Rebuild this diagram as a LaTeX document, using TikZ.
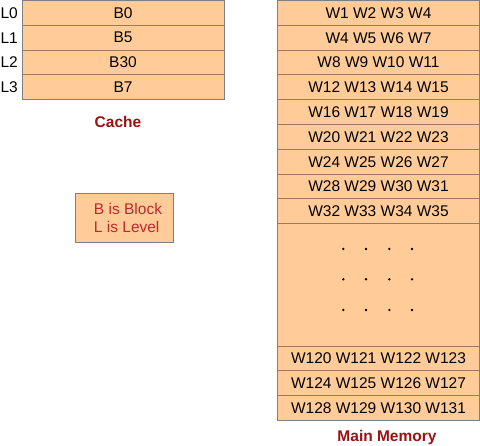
\documentclass[tikz,border=0pt]{standalone}
\usepackage{fontspec}
\setmainfont{Liberation Sans}
\usetikzlibrary{positioning}

\definecolor{cellfill}{HTML}{FFCC99}
\definecolor{cellline}{HTML}{9A7A5A}
\definecolor{framegray}{HTML}{7F7F7F}
\definecolor{titlered}{HTML}{991111}
\definecolor{notered}{HTML}{C0282A}

\tikzset{
	cell/.style={fill=cellfill, draw=cellline, line width=0.8pt, minimum width=202pt, minimum height=24.8pt, inner sep=0pt, outer sep=0pt, font=\fontsize{15.5}{18}\selectfont},
	level/.style={inner sep=0pt, font=\fontsize{15.5}{18}\selectfont},
	title/.style={anchor=base, text=titlered, font=\bfseries\fontsize{15.5}{18}\selectfont},
	legend/.style={fill=cellfill, draw=framegray, line width=0.8pt, minimum width=98pt, minimum height=49pt, align=left, text=notered, font=\fontsize{15.5}{18}\selectfont}
}

\begin{document}
\begin{tikzpicture}[x=1pt, y=-1pt]
	
		\useasboundingbox (0,0) rectangle (480,446);
		
		% Cache rows
		\node[cell] (b0) at (123,12.9) {B0};
		\node[cell, below=0pt of b0] (b5) {B5};
		\node[cell, below=0pt of b5] (b30) {B30};
		\node[cell, below=0pt of b30] (b7) {B7};
		\draw [framegray, line width=0.8pt] (b0.north west) rectangle (b7.south east);
		
		% Levels
		\node[level, left=4pt of b0] (l0) {L0};
		\node[level, left=4pt of b5] (l1) {L1};
		\node[level, left=4pt of b30] (l2) {L2};
		\node[level, left=4pt of b7] (l3) {L3};
		
		\node[title] (cachetitle) at (118,127.5) {Cache};
		
		% Legend
		\node[legend] (legend) at (124,217.5) {\hspace*{8pt}B is Block\\\hspace*{8pt}L is Level};
		
		% Main memory rows
		\node[cell] (w1) at (378.5,12.9) {W1 W2 W3 W4};
		\node[cell, below=0pt of w1] (w4) {W4 W5 W6 W7};
		\node[cell, below=0pt of w4] (w8) {W8 W9 W10 W11};
		\node[cell, below=0pt of w8] (w12) {W12 W13 W14 W15};
		\node[cell, below=0pt of w12] (w16) {W16 W17 W18 W19};
		\node[cell, below=0pt of w16] (w20) {W20 W21 W22 W23};
		\node[cell, below=0pt of w20] (w24) {W24 W25 W26 W27};
		\node[cell, below=0pt of w24] (w28) {W28 W29 W30 W31};
		\node[cell, below=0pt of w28] (w32) {W32 W33 W34 W35};
		\node[cell, below=0pt of w32, minimum height=122.3pt] (gap) {};
		\node[cell, below=0pt of gap] (w120) {W120 W121 W122 W123};
		\node[cell, below=0pt of w120] (w124) {W124 W125 W126 W127};
		\node[cell, below=0pt of w124] (w128) {W128 W129 W130 W131};
		\draw [framegray, line width=0.8pt] (w1.north west) rectangle (w128.south east);
		
		% Dots
		\foreach \x in {343.3, 366, 389.3, 412}
		\foreach \y in {249, 279.3, 310}
		\fill (\x,\y) circle [radius=1.3pt];
		
		\node[title] (memtitle) at (387,442) {Main Memory};
		
	\end{tikzpicture}
\end{document}
